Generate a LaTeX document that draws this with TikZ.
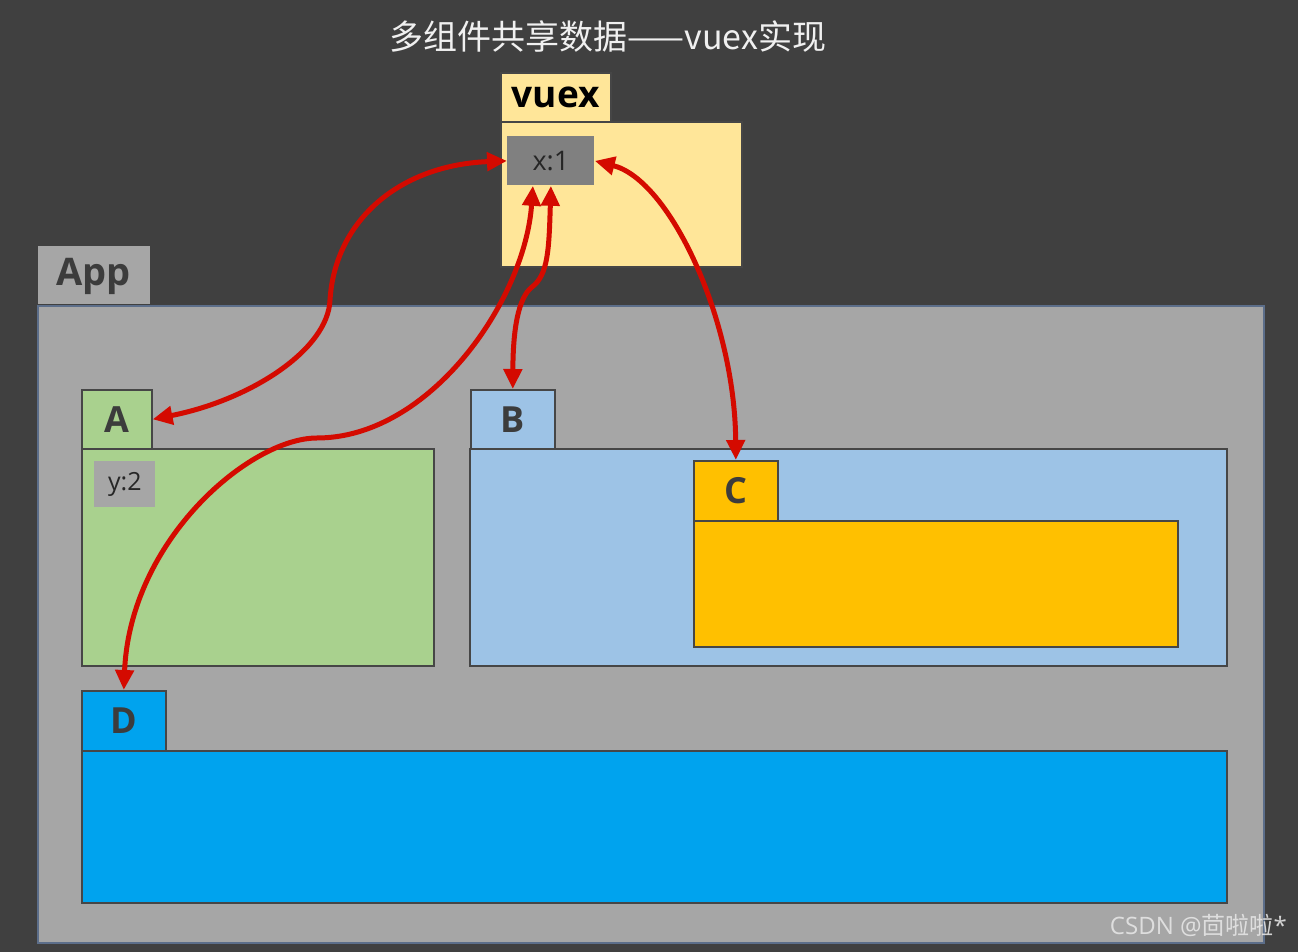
\documentclass[tikz,border=0pt]{standalone}
\usepackage{fontspec}
\setmainfont{Open Sans}
\newfontfamily\cjk{Noto Sans CJK SC}
\usepackage{tikz}
\usetikzlibrary{arrows.meta,calc}
\definecolor{bgdark}{RGB}{64,64,64}
\definecolor{appgray}{RGB}{166,166,166}
\definecolor{appedge}{RGB}{92,110,138}
\definecolor{edgegray}{RGB}{70,70,70}
\definecolor{labelgray}{RGB}{60,60,60}
\definecolor{vuexyellow}{RGB}{255,230,153}
\definecolor{datagray}{RGB}{128,128,128}
\definecolor{agreen}{RGB}{169,209,142}
\definecolor{bblue}{RGB}{157,195,230}
\definecolor{corange}{RGB}{255,192,0}
\definecolor{dblue}{RGB}{0,163,238}
\definecolor{linkred}{RGB}{212,10,0}
\tikzset{
  tab/.style={draw=edgegray, line width=0.8pt, inner sep=0pt, anchor=north west, text=labelgray, font=\fontsize{18}{18}\selectfont\bfseries},
  panel/.style={draw=edgegray, line width=0.8pt, inner sep=0pt, anchor=north west},
  databox/.style={inner sep=0pt, anchor=north west, text=black!85, font=\fontsize{12.5}{12.5}\selectfont},
  link/.style={linkred, line width=2.5pt, {Triangle[length=10pt,width=9pt]}-{Triangle[length=10pt,width=9pt]}}
}

\begin{document}
\begin{tikzpicture}[x=0.5pt,y=-0.5pt]
            \fill[bgdark] (0,0) rectangle (1298,952);
            \useasboundingbox (0,0) rectangle (1298,952);
            \node[text=white!94!black, font=\cjk\fontsize{17}{17}\selectfont] (title) at (608,37) {多组件共享数据——vuex实现};
            \node[panel, draw=appedge, fill=appgray, minimum width=613pt, minimum height=318.5pt] (appbody) at (37,305) {};
            \node[tab, draw=none, fill=appgray, minimum width=56pt, minimum height=29pt, text depth=3pt, font=\fontsize{19}{19}\selectfont\bfseries] (App) at (37,245) {App};
            \node[panel, fill=agreen, minimum width=176pt, minimum height=108.5pt] (abody) at (81,448) {};
            \node[tab, fill=agreen, minimum width=35pt, minimum height=29.5pt] (A) at (81,389) {A};
            \node[databox, fill=appgray, minimum width=30.5pt, minimum height=23pt] (yval) at (94,461) {y:2};
            \node[panel, fill=bblue, minimum width=378.5pt, minimum height=108.5pt] (bbody) at (469,448) {};
            \node[tab, fill=bblue, minimum width=42pt, minimum height=29.5pt] (B) at (470,389) {B};
            \node[panel, fill=corange, minimum width=242pt, minimum height=63pt] (cbody) at (693,520) {};
            \node[tab, fill=corange, minimum width=42pt, minimum height=30pt] (C) at (693,460) {C};
            \node[panel, fill=dblue, minimum width=572.5pt, minimum height=76pt] (dbody) at (81,750) {};
            \node[tab, fill=dblue, minimum width=42pt, minimum height=30pt] (D) at (81,690) {D};
            \node[panel, fill=vuexyellow, minimum width=120.5pt, minimum height=72.5pt] (vuexbody) at (500,121) {};
            \node[tab, fill=vuexyellow, minimum width=55pt, minimum height=24.5pt, text=black, font=\fontsize{18.5}{18.5}\selectfont\bfseries] (vuex) at (500,72) {vuex};
            \node[databox, fill=datagray, minimum width=43.5pt, minimum height=24.5pt, text=black!85, font=\fontsize{13.5}{13.5}\selectfont] (xval) at (507,136) {x:1};
            \draw[link] (xval.west) .. controls (400,165) and (335,220) .. (330,300) .. controls (328,350) and (250,400) .. (A.east);
            \draw[link] ($(xval.south)+(-18,0)$) .. controls (525,300) and (430,438) .. (317,438) .. controls (250,438) and (130,540) .. (D.north);
            \draw[link] (xval.south) .. controls (549,250) and (548,275) .. (532,287) .. controls (518,298) and (513,330) .. (B.north);
            \draw[link] (xval.east) .. controls (670,180) and (735,320) .. (C.north);
            \node[anchor=south east, text=white!90!black, opacity=0.9, font=\fontsize{12}{12}\selectfont] (mark) at (1294,944) {CSDN @{\cjk 茴啦啦}*};
        \end{tikzpicture}
\end{document}
